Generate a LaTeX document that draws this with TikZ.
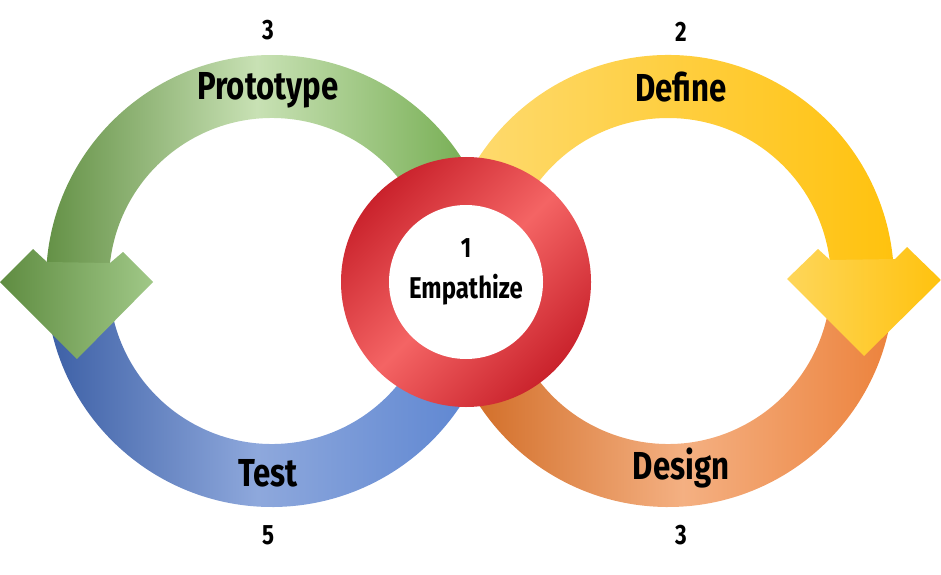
\documentclass[tikz,border=0pt]{standalone}
\usepackage{fontspec}
\setmainfont{Fira Sans}[FakeStretch=0.8]
\usetikzlibrary{calc}
\begin{document}
\begin{tikzpicture}[x=1pt,y=1pt,
  lbl/.style={font=\bfseries\fontsize{39}{42}\selectfont,inner sep=0pt},
  num/.style={font=\bfseries\fontsize{28}{30}\selectfont,inner sep=0pt}]
\useasboundingbox (0,0) rectangle (941,574);
\def\Ro{226}\def\Ri{163}
\coordinate (L) at (272,293);
\coordinate (R) at (668,293);
\coordinate (C) at (466,292);
% blue
\shade[left color={rgb,255:red,60;green,95;blue,165}, right color={rgb,255:red,95;green,135;blue,210}, middle color={rgb,255:red,142;green,168;blue,220}]
 ($(L)+(185:\Ro)$) arc (185:330:\Ro) -- ($(L)+(330:\Ri)$) arc (330:185:\Ri) -- cycle;
% orange
\shade[left color={rgb,255:red,210;green,110;blue,40}, right color={rgb,255:red,236;green,130;blue,60}, middle color={rgb,255:red,244;green,176;blue,130}]
 ($(R)+(355:\Ro)$) arc (355:210:\Ro) -- ($(R)+(210:\Ri)$) arc (210:355:\Ri) -- cycle;
% green
\shade[left color={rgb,255:red,100;green,145;blue,70}, right color={rgb,255:red,120;green,175;blue,85}, middle color={rgb,255:red,200;green,225;blue,180}]
 ($(L)+(178:\Ro)$) arc (178:30:\Ro) -- ($(L)+(30:\Ri)$) arc (30:178:\Ri) -- cycle;
\shade[left color={rgb,255:red,95;green,140;blue,65}, right color={rgb,255:red,160;green,200;blue,135}]
 (0,292) -- (33,325) -- (47,312) -- (110,311) -- (123,322) -- (153,292) -- (77,215) -- cycle;
% yellow
\shade[left color={rgb,255:red,254;green,218;blue,110}, right color={rgb,255:red,255;green,194;blue,14}]
 ($(R)+(150:\Ro)$) arc (150:2:\Ro) -- ($(R)+(2:\Ri)$) arc (2:150:\Ri) -- cycle;
\shade[left color={rgb,255:red,254;green,214;blue,90}, right color={rgb,255:red,255;green,194;blue,14}]
 (787,295) -- (818,325) -- (830,314) -- (895,315) -- (907,327) -- (941,294) -- (864,218) -- cycle;
% red ring
\begin{scope}
\clip (C) circle (125);
\shade[top color={rgb,255:red,200;green,32;blue,42}, bottom color={rgb,255:red,200;green,32;blue,42}, middle color={rgb,255:red,244;green,100;blue,100}, shading angle=45]
 ($(C)+(-130,-130)$) rectangle ($(C)+(130,130)$);
\end{scope}
\fill[white] (C) circle (77);
% texts
\node[num] (n3a) at (268,544) {3};
\node[lbl] (pro) at (268,484) {Prototype};
\node[num] (n2) at (681,542) {2};
\node[lbl] (def) at (681,487) {Define};
\node[lbl] (des) at (681,106) {Design};
\node[num] (n3b) at (681,39) {3};
\node[lbl] (tst) at (268,101) {Test};
\node[num] (n5) at (268,39) {5};
\node[num] (n1) at (466,326) {1};
\node[font=\bfseries\fontsize{30}{32}\selectfont,inner sep=0pt] (emp) at (466,284) {Empathize};
\end{tikzpicture}
\end{document}
